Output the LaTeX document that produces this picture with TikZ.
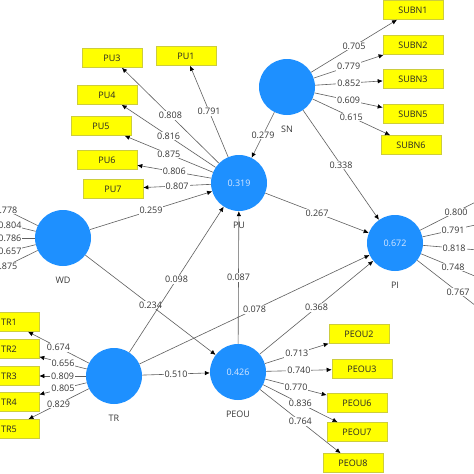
\documentclass[tikz,border=0pt]{standalone}
\usepackage{fontspec}
\setmainfont{Open Sans}
\usetikzlibrary{arrows.meta}
\definecolor{cblue}{RGB}{30,144,255}
\definecolor{ctext}{RGB}{215,232,255}
\definecolor{byellow}{RGB}{255,255,0}
\definecolor{bborder}{RGB}{205,205,60}
\definecolor{lgray}{RGB}{95,95,95}
\definecolor{ltext}{RGB}{55,55,55}
\tikzset{
  construct/.style={circle, fill=cblue, draw=none, minimum size=56pt, inner sep=0pt,
    text=ctext, font=\fontsize{9}{10}\selectfont},
  cname/.style={label={[label distance=7pt, text=ltext, font=\fontsize{9}{10}\selectfont]below:#1}},
  indic/.style={rectangle, fill=byellow, draw=bborder, line width=0.6pt, minimum width=60pt,
    minimum height=19pt, inner sep=0pt, text=black!85, font=\fontsize{9}{10}\selectfont},
  conn/.style={draw=lgray, line width=0.6pt, -{Latex[length=5pt,width=4.5pt,color=black]}},
  lbl/.style={fill=white, inner sep=1pt, text=ltext, font=\fontsize{9}{10}\selectfont, midway}
}
\begin{document}
\begin{tikzpicture}[x=1pt,y=-1pt]
\useasboundingbox (0,0) rectangle (474,474);
\clip (0,0) rectangle (474,474);
\fill[white] (0,0) rectangle (474,474);
% constructs
\node[construct, cname=PU] (PU) at (239,183) {0.319};
\node[construct, cname=SN] (SN) at (287,87) {};
\node[construct, cname=WD] (WD) at (63,238) {};
\node[construct, cname=PI] (PI) at (395,243) {0.672};
\node[construct, cname=TR] (TR) at (114,376) {};
\node[construct, cname=PEOU] (PEOU) at (238,372) {0.426};
% indicators
\node[indic] (PU1) at (186,56) {PU1};
\node[indic] (PU3) at (112,58) {PU3};
\node[indic] (PU4) at (107,95) {PU4};
\node[indic] (PU5) at (101,126) {PU5};
\node[indic] (PU6) at (107,160) {PU6};
\node[indic] (PU7) at (113,189) {PU7};
\node[indic] (SUBN1) at (413,10) {SUBN1};
\node[indic] (SUBN2) at (413,45) {SUBN2};
\node[indic] (SUBN3) at (413,79) {SUBN3};
\node[indic] (SUBN5) at (413,114) {SUBN5};
\node[indic] (SUBN6) at (411,145) {SUBN6};
\node[indic] (TR1) at (9,322) {TR1};
\node[indic] (TR2) at (9,349) {TR2};
\node[indic] (TR3) at (9,376) {TR3};
\node[indic] (TR4) at (9,402) {TR4};
\node[indic] (TR5) at (9,429) {TR5};
\node[indic] (PEOU2) at (359,334) {PEOU2};
\node[indic] (PEOU3) at (362,369) {PEOU3};
\node[indic] (PEOU6) at (357,403) {PEOU6};
\node[indic] (PEOU7) at (357,432) {PEOU7};
\node[indic] (PEOU8) at (353,463) {PEOU8};
% off-picture indicator ends
\coordinate (w1) at (-25.9,194.3);
\coordinate (w2) at (-15.8,218.7);
\coordinate (w3) at (-15,238);
\coordinate (w4) at (-15.8,257.3);
\coordinate (w5) at (-25.9,281.7);
\coordinate (p1) at (492.0,193.7);
\coordinate (p2) at (483.7,223.1);
\coordinate (p3) at (485.1,250.6);
\coordinate (p4) at (485.1,280.3);
\coordinate (p5) at (498.9,323.8);
% structural paths
\draw[conn] (SN) -- node[lbl]{0.279} (PU);
\draw[conn] (SN) -- node[lbl]{0.338} (PI);
\draw[conn] (WD) -- node[lbl]{0.259} (PU);
\draw[conn] (WD) -- node[lbl]{0.234} (PEOU);
\draw[conn] (TR) -- node[lbl]{0.098} (PU);
\draw[conn] (TR) -- node[lbl]{0.078} (PI);
\draw[conn] (TR) -- node[lbl]{0.510} (PEOU);
\draw[conn] (PEOU) -- node[lbl]{0.087} (PU);
\draw[conn] (PEOU) -- node[lbl]{0.368} (PI);
\draw[conn] (PU) -- node[lbl]{0.267} (PI);
% loadings
\draw[conn] (PU) -- node[lbl]{0.791} (PU1);
\draw[conn] (PU) -- node[lbl]{0.808} (PU3);
\draw[conn] (PU) -- node[lbl]{0.816} (PU4);
\draw[conn] (PU) -- node[lbl]{0.875} (PU5);
\draw[conn] (PU) -- node[lbl]{0.806} (PU6);
\draw[conn] (PU) -- node[lbl]{0.807} (PU7);
\draw[conn] (SN) -- node[lbl]{0.705} (SUBN1);
\draw[conn] (SN) -- node[lbl]{0.779} (SUBN2);
\draw[conn] (SN) -- node[lbl]{0.852} (SUBN3);
\draw[conn] (SN) -- node[lbl]{0.609} (SUBN5);
\draw[conn] (SN) -- node[lbl]{0.615} (SUBN6);
\draw[conn] (TR) -- node[lbl]{0.674} (TR1);
\draw[conn] (TR) -- node[lbl]{0.656} (TR2);
\draw[conn] (TR) -- node[lbl]{0.809} (TR3);
\draw[conn] (TR) -- node[lbl]{0.805} (TR4);
\draw[conn] (TR) -- node[lbl]{0.829} (TR5);
\draw[conn] (PEOU) -- node[lbl]{0.713} (PEOU2);
\draw[conn] (PEOU) -- node[lbl]{0.740} (PEOU3);
\draw[conn] (PEOU) -- node[lbl]{0.770} (PEOU6);
\draw[conn] (PEOU) -- node[lbl]{0.836} (PEOU7);
\draw[conn] (PEOU) -- node[lbl]{0.764} (PEOU8);
\draw[conn] (WD) -- node[lbl]{0.778} (w1);
\draw[conn] (WD) -- node[lbl]{0.804} (w2);
\draw[conn] (WD) -- node[lbl]{0.786} (w3);
\draw[conn] (WD) -- node[lbl]{0.657} (w4);
\draw[conn] (WD) -- node[lbl]{0.875} (w5);
\draw[conn] (PI) -- node[lbl]{0.800} (p1);
\draw[conn] (PI) -- node[lbl]{0.791} (p2);
\draw[conn] (PI) -- node[lbl]{0.818} (p3);
\draw[conn] (PI) -- node[lbl]{0.748} (p4);
\draw[conn] (PI) -- node[lbl]{0.767} (p5);
\end{tikzpicture}
\end{document}
